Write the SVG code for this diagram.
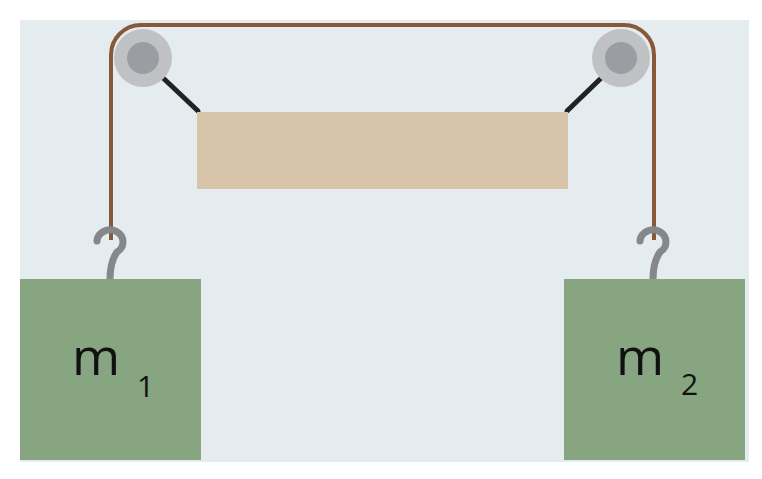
<svg xmlns="http://www.w3.org/2000/svg" width="762" height="479" viewBox="0 0 762 479">
<style>
.rope{fill:none;stroke:#87593a;stroke-width:4}
.rod{stroke:#222;stroke-width:5;stroke-linecap:round}
.hook{fill:none;stroke:#85878b;stroke-width:7;stroke-linecap:round}
.mass{fill:#87a580}
.t{font-family:"Open Sans",sans-serif;fill:#111}
</style>
<rect width="762" height="479" fill="#fff"/>
<rect x="20" y="20" width="729" height="442" fill="#e4ecf0"/>
<g id="connectors">
<path class="rope" d="M111,240 V55 A30,30 0 0 1 141,25 H624 A30,30 0 0 1 654,55 V240"/>
<line class="rod" x1="142" y1="58" x2="198" y2="111"/>
<line class="rod" x1="622" y1="58" x2="567" y2="111"/>
</g>
<g id="pulley1"><circle cx="143" cy="58" r="29" fill="#bfc1c5"/><circle cx="143" cy="58" r="16" fill="#9a9da2"/></g>
<g id="pulley2"><circle cx="621" cy="58" r="29" fill="#bfc1c5"/><circle cx="621" cy="58" r="16" fill="#9a9da2"/></g>
<g id="bar"><rect x="197" y="112" width="371" height="77" fill="#d8c4a8"/></g>
<g id="hook1"><path class="hook" d="M97,241 A13,12 0 1 1 117,252 Q110,262 110,279"/></g>
<g id="hook2"><path class="hook" d="M640,241 A13,12 0 1 1 660,252 Q653,262 653,279"/></g>
<g id="m1"><rect class="mass" x="20" y="279" width="181" height="181"/>
<text class="t" x="72" y="375" font-size="52">m</text><text class="t" x="137" y="397" font-size="30">1</text></g>
<g id="m2"><rect class="mass" x="564" y="279" width="181" height="181"/>
<text class="t" x="616" y="375" font-size="52">m</text><text class="t" x="681" y="395" font-size="30">2</text></g>
</svg>
